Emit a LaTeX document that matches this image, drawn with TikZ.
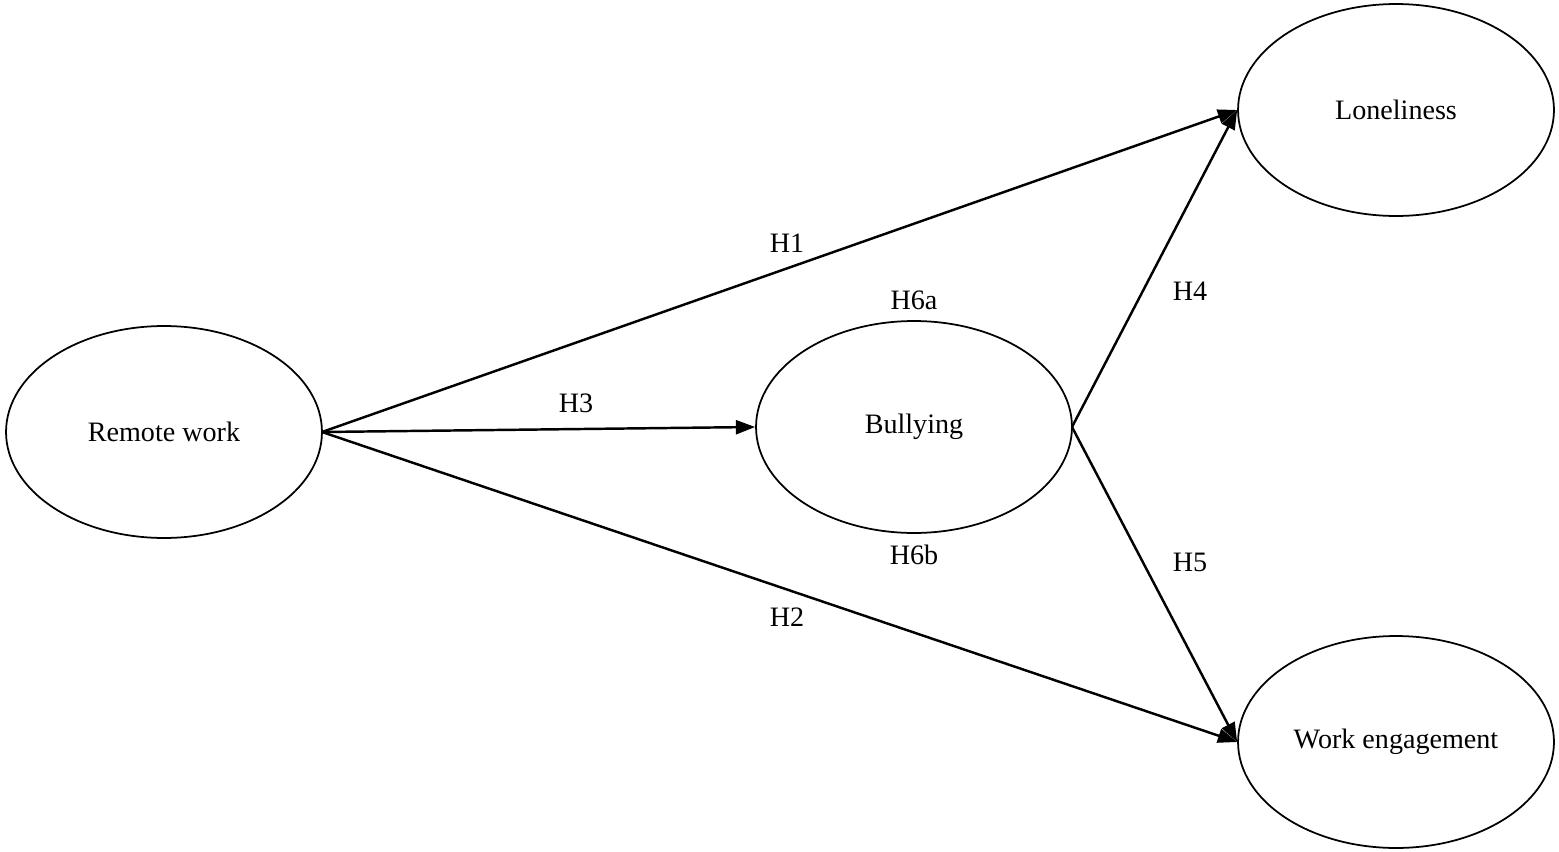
\documentclass[tikz,border=0pt]{standalone}
\usepackage{fontspec}
\setmainfont{Liberation Serif}
\usetikzlibrary{shapes.geometric,arrows.meta}
\begin{document}
\begin{tikzpicture}[x=0.02cm,y=-0.02cm,
  ell/.style={draw,ellipse,line width=1pt,minimum width=6.32cm,minimum height=4.24cm,inner sep=0pt,font=\fontsize{16}{18}\selectfont},
  arr/.style={line width=1.4pt,-{Triangle[length=11pt,width=8pt]}},
  lab/.style={font=\fontsize{16}{18}\selectfont}]
\useasboundingbox (0,0) rectangle (1559,852);
\node[ell] (rw) at (164,432) {Remote work};
\node[ell] (bu) at (914,427) {Bullying};
\node[ell] (lo) at (1396,110) {Loneliness};
\node[ell] (we) at (1396,742) {Work engagement};
\coordinate (rwe) at (322,432);
\coordinate (bue) at (1072,427);
\draw[arr] (rwe) -- (lo.west);
\draw[arr] (rwe) -- (bu.west);
\draw[arr] (rwe) -- (we.west);
\draw[arr] (bue) -- (lo.west);
\draw[arr] (bue) -- (we.west);
\node[lab] (h1) at (787,243) {H1};
\node[lab] (h6a) at (914,300) {H6a};
\node[lab] (h3) at (576,403) {H3};
\node[lab] (h6b) at (914,555) {H6b};
\node[lab] (h2) at (787,617) {H2};
\node[lab] (h4) at (1190,291) {H4};
\node[lab] (h5) at (1190,562) {H5};
\end{tikzpicture}
\end{document}
